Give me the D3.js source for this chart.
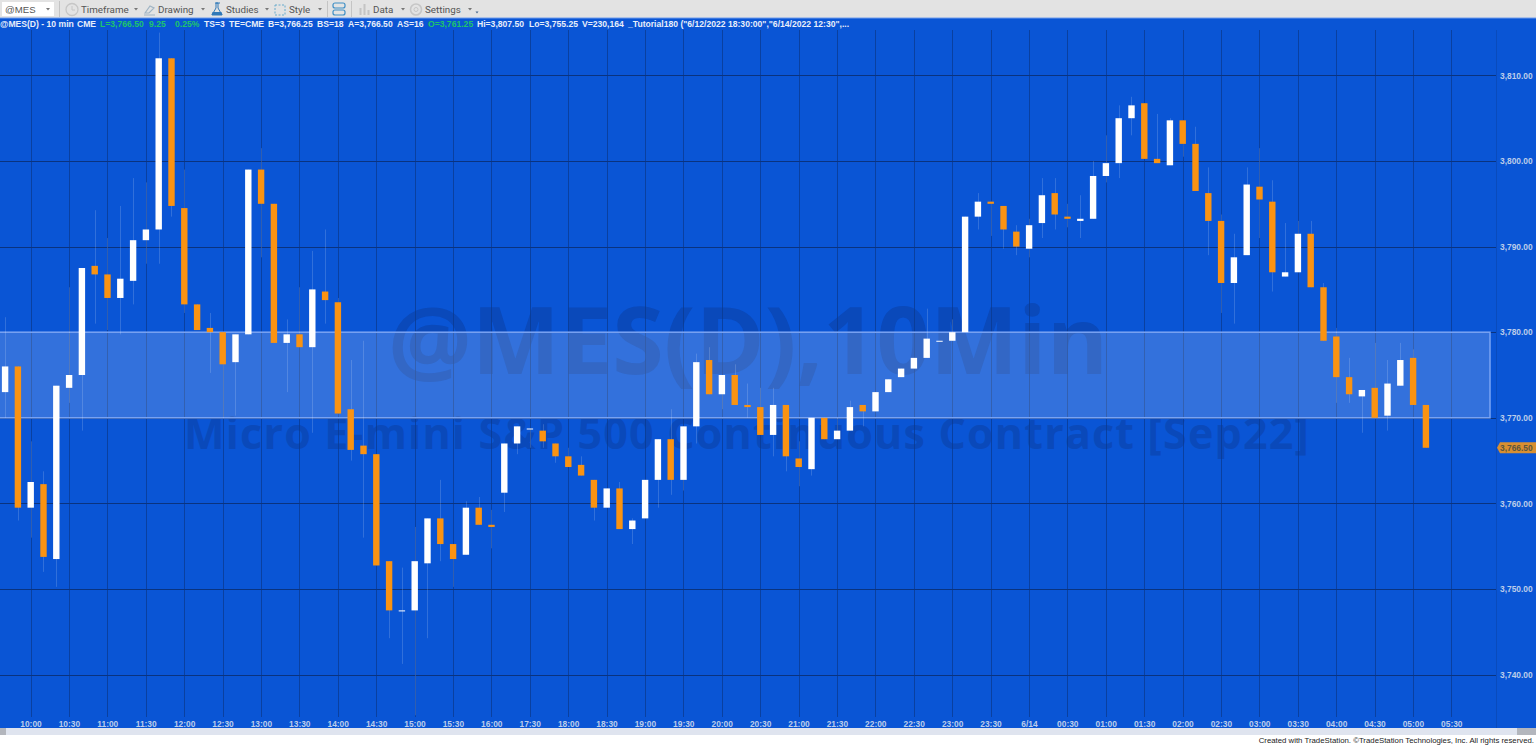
<!DOCTYPE html>
<html>
<head>
<meta charset="utf-8">
<script src="https://cdn.jsdelivr.net/npm/d3@7"></script>
<style>
html, body { margin: 0; padding: 0; background: #fff; overflow: hidden; }
svg { display: block; }
text { font-family: "Liberation Sans", Arial, sans-serif; }
</style>
</head>
<body>
<svg width="1536" height="745"></svg>
<script>
// one label per 10 min bar, the last two slots have no bar yet
var barTimes = [
  "09:40","09:50","10:00","10:10","10:20","10:30","10:40","10:50","11:00","11:10","11:20","11:30","11:40","11:50",
  "12:00","12:10","12:20","12:30","12:40","12:50","13:00","13:10","13:20","13:30","13:40","13:50","14:00","14:10",
  "14:20","14:30","14:40","14:50","15:00","15:10","15:20","15:30","15:40","15:50","16:00","17:10","17:20","17:30",
  "17:40","17:50","18:00","18:10","18:20","18:30","18:40","18:50","19:00","19:10","19:20","19:30","19:40","19:50",
  "20:00","20:10","20:20","20:30","20:40","20:50","21:00","21:10","21:20","21:30","21:40","21:50","22:00","22:10",
  "22:20","22:30","22:40","22:50","23:00","23:10","23:20","23:30","23:40","23:50","6/14","00:10","00:20","00:30",
  "00:40","00:50","01:00","01:10","01:20","01:30","01:40","01:50","02:00","02:10","02:20","02:30","02:40","02:50",
  "03:00","03:10","03:20","03:30","03:40","03:50","04:00","04:10","04:20","04:30","04:40","04:50","05:00","05:10",
  "05:20","05:30"
];
var timeTicks = ["10:00","10:30","11:00","11:30","12:00","12:30","13:00","13:30","14:00","14:30","15:00","15:30","16:00",
  "17:30","18:00","18:30","19:00","19:30","20:00","20:30","21:00","21:30","22:00","22:30","23:00","23:30","6/14",
  "00:30","01:00","01:30","02:00","02:30","03:00","03:30","04:00","04:30","05:00","05:30"];
var priceTicks = [3740, 3750, 3760, 3770, 3780, 3790, 3800, 3810];

var opens = [3773,3776,3759.5,3762.25,3753.5,3773.5,3775,3787.75,3786.75,3784,3786,3790.75,3792,3812,
  3794.5,3783.25,3780.5,3780,3776.5,3779.75,3799,3795,3778.75,3779.75,3778.25,3784.75,3783.5,3771,
  3766.75,3765.75,3753.25,3747.5,3747.5,3753,3758.25,3755.25,3754,3759.5,3757.5,3761.25,3767,3768.75,
  3768.5,3767,3765.5,3764.5,3762.75,3759.5,3761.75,3757,3758.25,3762.75,3767.5,3762.75,3769,3776.75,
  3772.75,3775,3771.5,3771.25,3768,3771.5,3765.25,3764,3770,3767.5,3768.5,3771.5,3770.75,3773,
  3774.75,3775.75,3777,3779,3779,3780,3793.5,3795.25,3794.75,3791.75,3789.75,3792.75,3796.25,3793.5,
  3793,3793.25,3798.25,3799.75,3805,3806.75,3800.25,3799.5,3804.75,3802,3796.25,3793,3785.75,3789,
  3797,3795.25,3786.5,3787,3791.5,3785.25,3779.5,3774.75,3772.5,3773.5,3770.25,3773.75,3777,3771.5];
var highs = [3781.75,3776,3767.25,3763.75,3773.75,3785.25,3787.5,3794.25,3791,3794.75,3798,3797.5,3815,3812,
  3799,3783.25,3782.25,3780,3779.75,3799,3801.5,3795,3781.5,3785.25,3789.5,3792,3784,3776.75,
  3779,3765.75,3753.25,3752.5,3757.25,3758.25,3762.75,3755.25,3760.25,3760.75,3759.25,3767,3769,3768.75,
  3769.25,3767,3766.5,3765.5,3762.75,3761.75,3762.5,3758.25,3762.75,3767.5,3771,3769,3777.5,3778.25,
  3775,3776.25,3774,3773.5,3773.5,3771.5,3767.25,3770,3770,3770,3772,3771.5,3773,3774.5,
  3775.75,3777,3782.75,3779,3781.5,3793.5,3796.25,3795.25,3794.75,3792.5,3793.25,3798,3798,3795,
  3796,3800,3803,3806.5,3807.5,3806.75,3805.5,3805,3804.75,3804,3799.25,3793.75,3791.5,3799.25,
  3801.5,3797.75,3792.75,3793,3793,3785.75,3780.5,3777,3773.25,3778.75,3776.75,3778.75,3778,3771.5];
var lows = [3770,3758,3756,3752,3750.25,3771.75,3768.5,3781,3780.25,3779.75,3783.25,3788,3788,3793.5,
  3782.25,3780.25,3775.25,3770,3770.25,3779.75,3788.75,3778.75,3773,3778.25,3768.25,3781,3770.5,3765,
  3756,3752.75,3744.25,3741.25,3735.25,3744.25,3753.25,3750.25,3754,3757.5,3754.75,3759,3765.75,3766.5,
  3766.5,3764.75,3764.25,3763.25,3758,3759.5,3757,3755.25,3758.25,3759.5,3761,3761.5,3767,3772.75,
  3771,3771.5,3770,3768,3765.5,3763.75,3762,3763.25,3767.5,3767.5,3768.5,3769,3770.75,3773,
  3774.75,3775.75,3777,3779,3779,3780,3792,3791.25,3789.75,3789,3788.75,3791,3792,3792.25,
  3791,3793.25,3797.5,3798,3803,3800.25,3799.75,3799.5,3800.5,3796.5,3789,3782.25,3781,3789,
  3791,3784.75,3786.5,3787,3785.25,3779,3771.75,3771.75,3768.25,3770,3768.5,3773.75,3771.5,3766.5];
var closes = [3776,3759.5,3762.5,3753.75,3773.75,3775,3787.5,3786.75,3784,3786.25,3790.75,3792,3812,3794.75,
  3783.25,3780.25,3780,3776.25,3779.75,3799,3795,3778.75,3779.75,3778.25,3785,3783.75,3770.5,3766.25,
  3765.75,3752.75,3747.5,3747.5,3753.25,3758.25,3755.25,3753.5,3759.5,3757.5,3757.25,3767,3769,3768.75,
  3767.25,3765.5,3764.25,3763.25,3759.5,3761.75,3757,3758,3762.75,3767.5,3762.75,3769,3776.5,3772.75,
  3775,3771.5,3771.25,3768,3771.5,3765.5,3764.25,3770,3767.5,3768.5,3771.25,3770.75,3773,3774.5,
  3775.75,3777,3779.25,3779,3780,3793.5,3795.25,3795,3792,3790,3792.5,3796,3793.75,3793.25,
  3793.25,3798.25,3799.75,3805,3806.5,3800.25,3799.75,3804.75,3802,3796.5,3793,3785.75,3788.75,3797.25,
  3795.5,3787,3787,3791.5,3785.25,3779,3774.75,3772.75,3773.25,3770,3774,3776.75,3771.5,3766.5];

var zoneTop = 3780, zoneBottom = 3770, lastPrice = 3766.5;
var statusParts = [
  ["@MES(D) - 10 min", 0, "#e8eefa"], ["CME", 77, "#e8eefa"], ["L=3,766.50", 100, "#1fc46b"], ["9.25", 149, "#1fc46b"],
  ["0.25%", 175, "#1fc46b"], ["TS=3", 204, "#e8eefa"], ["TE=CME", 229, "#e8eefa"], ["B=3,766.25", 268, "#e8eefa"],
  ["BS=18", 317, "#e8eefa"], ["A=3,766.50", 348, "#e8eefa"], ["AS=16", 397, "#e8eefa"], ["O=3,761.25", 428, "#1fc46b"],
  ["Hi=3,807.50", 477, "#e8eefa"], ["Lo=3,755.25", 529, "#e8eefa"], ["V=230,164", 582, "#e8eefa"],
  ["_Tutorial180 (\"6/12/2022 18:30:00\",\"6/14/2022 12:30\",...", 628, "#e8eefa"]
];
var menuItems = [["Timeframe", 81, 134], ["Drawing", 158, 201], ["Studies", 226, 265], ["Style", 289, 318], ["Data", 373, 401], ["Settings", 425, 468]];

var svg = d3.select("svg");
var bg = "#0a55d5", up = "#ffffff", down = "#fa9312";

var xScale = d3.scalePoint().domain(barTimes).range([4.9, 4.9 + 12.8 * (barTimes.length - 1)]);
var yScale = d3.scaleLinear().domain([3740, 3810]).range([674.6, 75.4]);

svg.append("rect").attr("width", 1536).attr("height", 745).attr("fill", "#fff");
svg.append("rect").attr("y", 18).attr("width", 1536).attr("height", 710).attr("fill", bg);

// watermarks sit behind the grid
svg.append("text").attr("x", 748).attr("y", 374).attr("text-anchor", "middle")
   .attr("font-size", "93.5px").attr("font-weight", "bold").style("font-family", "'Open Sans'")
   .attr("fill", "#0a49ba").text("@MES(D),10Min");
svg.append("text").attr("x", 747).attr("y", 449).attr("text-anchor", "middle")
   .attr("font-size", "43px").attr("font-weight", "bold").attr("letter-spacing", "1.2px")
   .style("font-family", "'Open Sans'")
   .attr("fill", "#0a49ba").text("Micro E-mini S&P 500 Continuous Contract [Sep22]");

// grid
svg.append("g").selectAll("line").data(timeTicks).enter().append("line")
   .attr("x1", function(d) { return Math.round(xScale(d)) + 0.5; })
   .attr("x2", function(d) { return Math.round(xScale(d)) + 0.5; })
   .attr("y1", 30).attr("y2", 717)
   .attr("stroke", "#0a3a8f").attr("stroke-width", 1).attr("opacity", 0.75);
svg.append("g").selectAll("line").data(priceTicks).enter().append("line")
   .attr("x1", 0).attr("x2", 1496)
   .attr("y1", function(d) { return Math.round(yScale(d)) + 0.5; })
   .attr("y2", function(d) { return Math.round(yScale(d)) + 0.5; })
   .attr("stroke", "#0a337f").attr("stroke-width", 1);
svg.append("line").attr("x1", 1496.5).attr("x2", 1496.5).attr("y1", 30).attr("y2", 728)
   .attr("stroke", "#0a3a8f").attr("opacity", 0.35);

// zone
svg.append("rect").attr("x", -2).attr("width", 1492)
   .attr("y", yScale(zoneTop)).attr("height", yScale(zoneBottom) - yScale(zoneTop))
   .attr("fill", "#ffffff").attr("fill-opacity", 0.17)
   .attr("stroke", "#7ba5f5").attr("stroke-width", 1.5);

// candles
var bars = barTimes.slice(0, opens.length);
var g = svg.append("g");
g.selectAll(".wick").data(bars).enter().append("line")
   .attr("class", "wick")
   .attr("x1", function(d) { return Math.round(xScale(d)) + 0.5; })
   .attr("x2", function(d) { return Math.round(xScale(d)) + 0.5; })
   .attr("y1", function(d, i) { return yScale(highs[i]); })
   .attr("y2", function(d, i) { return yScale(lows[i]); })
   .attr("stroke", "#ffffff").attr("stroke-opacity", 0.16);
g.selectAll(".body").data(bars).enter().append("rect")
   .attr("class", "body")
   .attr("x", function(d) { return xScale(d) - 3; })
   .attr("width", 6.4)
   .attr("y", function(d, i) { return yScale(Math.max(opens[i], closes[i])); })
   .attr("height", function(d, i) { return Math.max(1, Math.abs(yScale(opens[i]) - yScale(closes[i]))); })
   .attr("fill", function(d, i) { return closes[i] >= opens[i] ? up : down; });

// axes
var yAxis = svg.append("g").attr("transform", "translate(1500,0)")
   .call(d3.axisRight(yScale).tickValues(priceTicks).tickSize(0).tickPadding(0)
      .tickFormat(function(d) { return d3.format(",.2f")(d); }));
var xAxis = svg.append("g").attr("transform", "translate(0,718.5)")
   .call(d3.axisBottom(xScale).tickValues(timeTicks).tickSize(0).tickPadding(3));
[yAxis, xAxis].forEach(function(a) {
  a.select(".domain").remove();
  a.selectAll("text").attr("fill", "#bccdea").attr("font-size", "8.4px")
   .attr("font-weight", "bold")
   .style("font-family", "'Liberation Sans'");
});

// last price tag
var tagY = yScale(lastPrice);
svg.append("path").attr("d", "M1497," + tagY + "l3,-5.5h36v11h-36z").attr("fill", "#d98f30");
svg.append("text").attr("x", 1500).attr("y", tagY + 3).attr("font-size", "8.4px")
   .attr("font-weight", "bold").attr("fill", "#5a5540")
   .text(d3.format(",.2f")(lastPrice));

// toolbar
svg.append("rect").attr("width", 1536).attr("height", 18).attr("fill", "#e3e3e3");
svg.append("line").attr("x1", 0).attr("x2", 1536).attr("y1", 18).attr("y2", 18).attr("stroke", "#6e9cec");
svg.append("rect").attr("x", 2).attr("y", 2).attr("width", 52).attr("height", 14).attr("fill", "#fff");
svg.append("text").attr("x", 5).attr("y", 13).attr("font-size", "9.6px").attr("fill", "#555").text("@MES");
svg.append("path").attr("d", "M46,8h4l-2,2.5z").attr("fill", "#777");
svg.append("g").selectAll("text").data(menuItems).enter().append("text")
   .attr("x", function(d) { return d[1]; }).attr("y", 13)
   .attr("font-size", "9.8px").attr("fill", "#555")
   .style("font-family", "Roboto")
   .text(function(d) { return d[0]; });
svg.append("g").selectAll("path").data(menuItems).enter().append("path")
   .attr("d", function(d) { return "M" + d[2] + ",8h4l-2,2.5z"; })
   .attr("fill", "#777");

// toolbar icons, rough shapes only
var icons = svg.append("g").attr("fill", "none");
icons.append("circle").attr("cx", 72).attr("cy", 9.5).attr("r", 6).attr("stroke", "#c6c6c6").attr("stroke-width", 1.3);
icons.append("path").attr("d", "M72,6v4h3").attr("stroke", "#c6c6c6");
icons.append("path").attr("d", "M144,15h11M145,13l5,-7l4,2l-5,5z").attr("stroke", "#9fb4c4").attr("stroke-width", 1.2);
icons.append("path").attr("d", "M215,3h5M216,3v5l-4,7h10l-4,-7v-5z").attr("stroke", "#2f78b8");
icons.append("path").attr("d", "M212.5,12h9l1,3h-11z").attr("fill", "#2f78b8");
icons.append("rect").attr("x", 275).attr("y", 5).attr("width", 10).attr("height", 10).attr("stroke", "#66aacc").attr("stroke-dasharray", "2,1.5");
icons.append("rect").attr("x", 333).attr("y", 3).attr("width", 12).attr("height", 5).attr("rx", 2).attr("stroke", "#3f8fc5").attr("stroke-width", 1.2);
icons.append("rect").attr("x", 333).attr("y", 10).attr("width", 12).attr("height", 5).attr("rx", 2).attr("stroke", "#3f8fc5").attr("stroke-width", 1.2);
icons.append("path").attr("d", "M360.5,15v-7M364.5,15v-11M368.5,15v-5").attr("stroke", "#c4c4c4").attr("stroke-width", 2);
icons.append("circle").attr("cx", 416).attr("cy", 9.5).attr("r", 5.5).attr("stroke", "#c6c6c6").attr("stroke-width", 1.6);
icons.append("circle").attr("cx", 416).attr("cy", 9.5).attr("r", 2).attr("stroke", "#c6c6c6");
icons.append("path").attr("d", "M475.5,11.5h3l-1.5,2z").attr("fill", "#4a6a90");
[59, 327, 351].forEach(function(x) {
  svg.append("line").attr("x1", x + 0.5).attr("x2", x + 0.5).attr("y1", 1).attr("y2", 17).attr("stroke", "#c4c4c4");
});

// status line
svg.append("g").selectAll("text").data(statusParts).enter().append("text")
   .attr("x", function(d) { return d[1]; }).attr("y", 26.5)
   .attr("font-size", "8.6px").attr("font-weight", "bold")
   .attr("fill", function(d) { return d[2]; })
   .text(function(d) { return d[0]; });

// scrollbar and footer
svg.append("rect").attr("y", 728).attr("width", 1536).attr("height", 7).attr("fill", "#dfe4ef");
svg.append("rect").attr("y", 728).attr("width", 6).attr("height", 7).attr("fill", "#b3b6bd");
svg.append("rect").attr("x", 1517).attr("y", 728).attr("width", 19).attr("height", 7).attr("fill", "#b3b6bd");
svg.append("text").attr("x", 1534).attr("y", 742.8).attr("text-anchor", "end")
   .attr("font-size", "7.8px").attr("fill", "#222")
   .text("Created with TradeStation. \u00a9TradeStation Technologies, Inc. All rights reserved.");
</script>
</body>
</html>
